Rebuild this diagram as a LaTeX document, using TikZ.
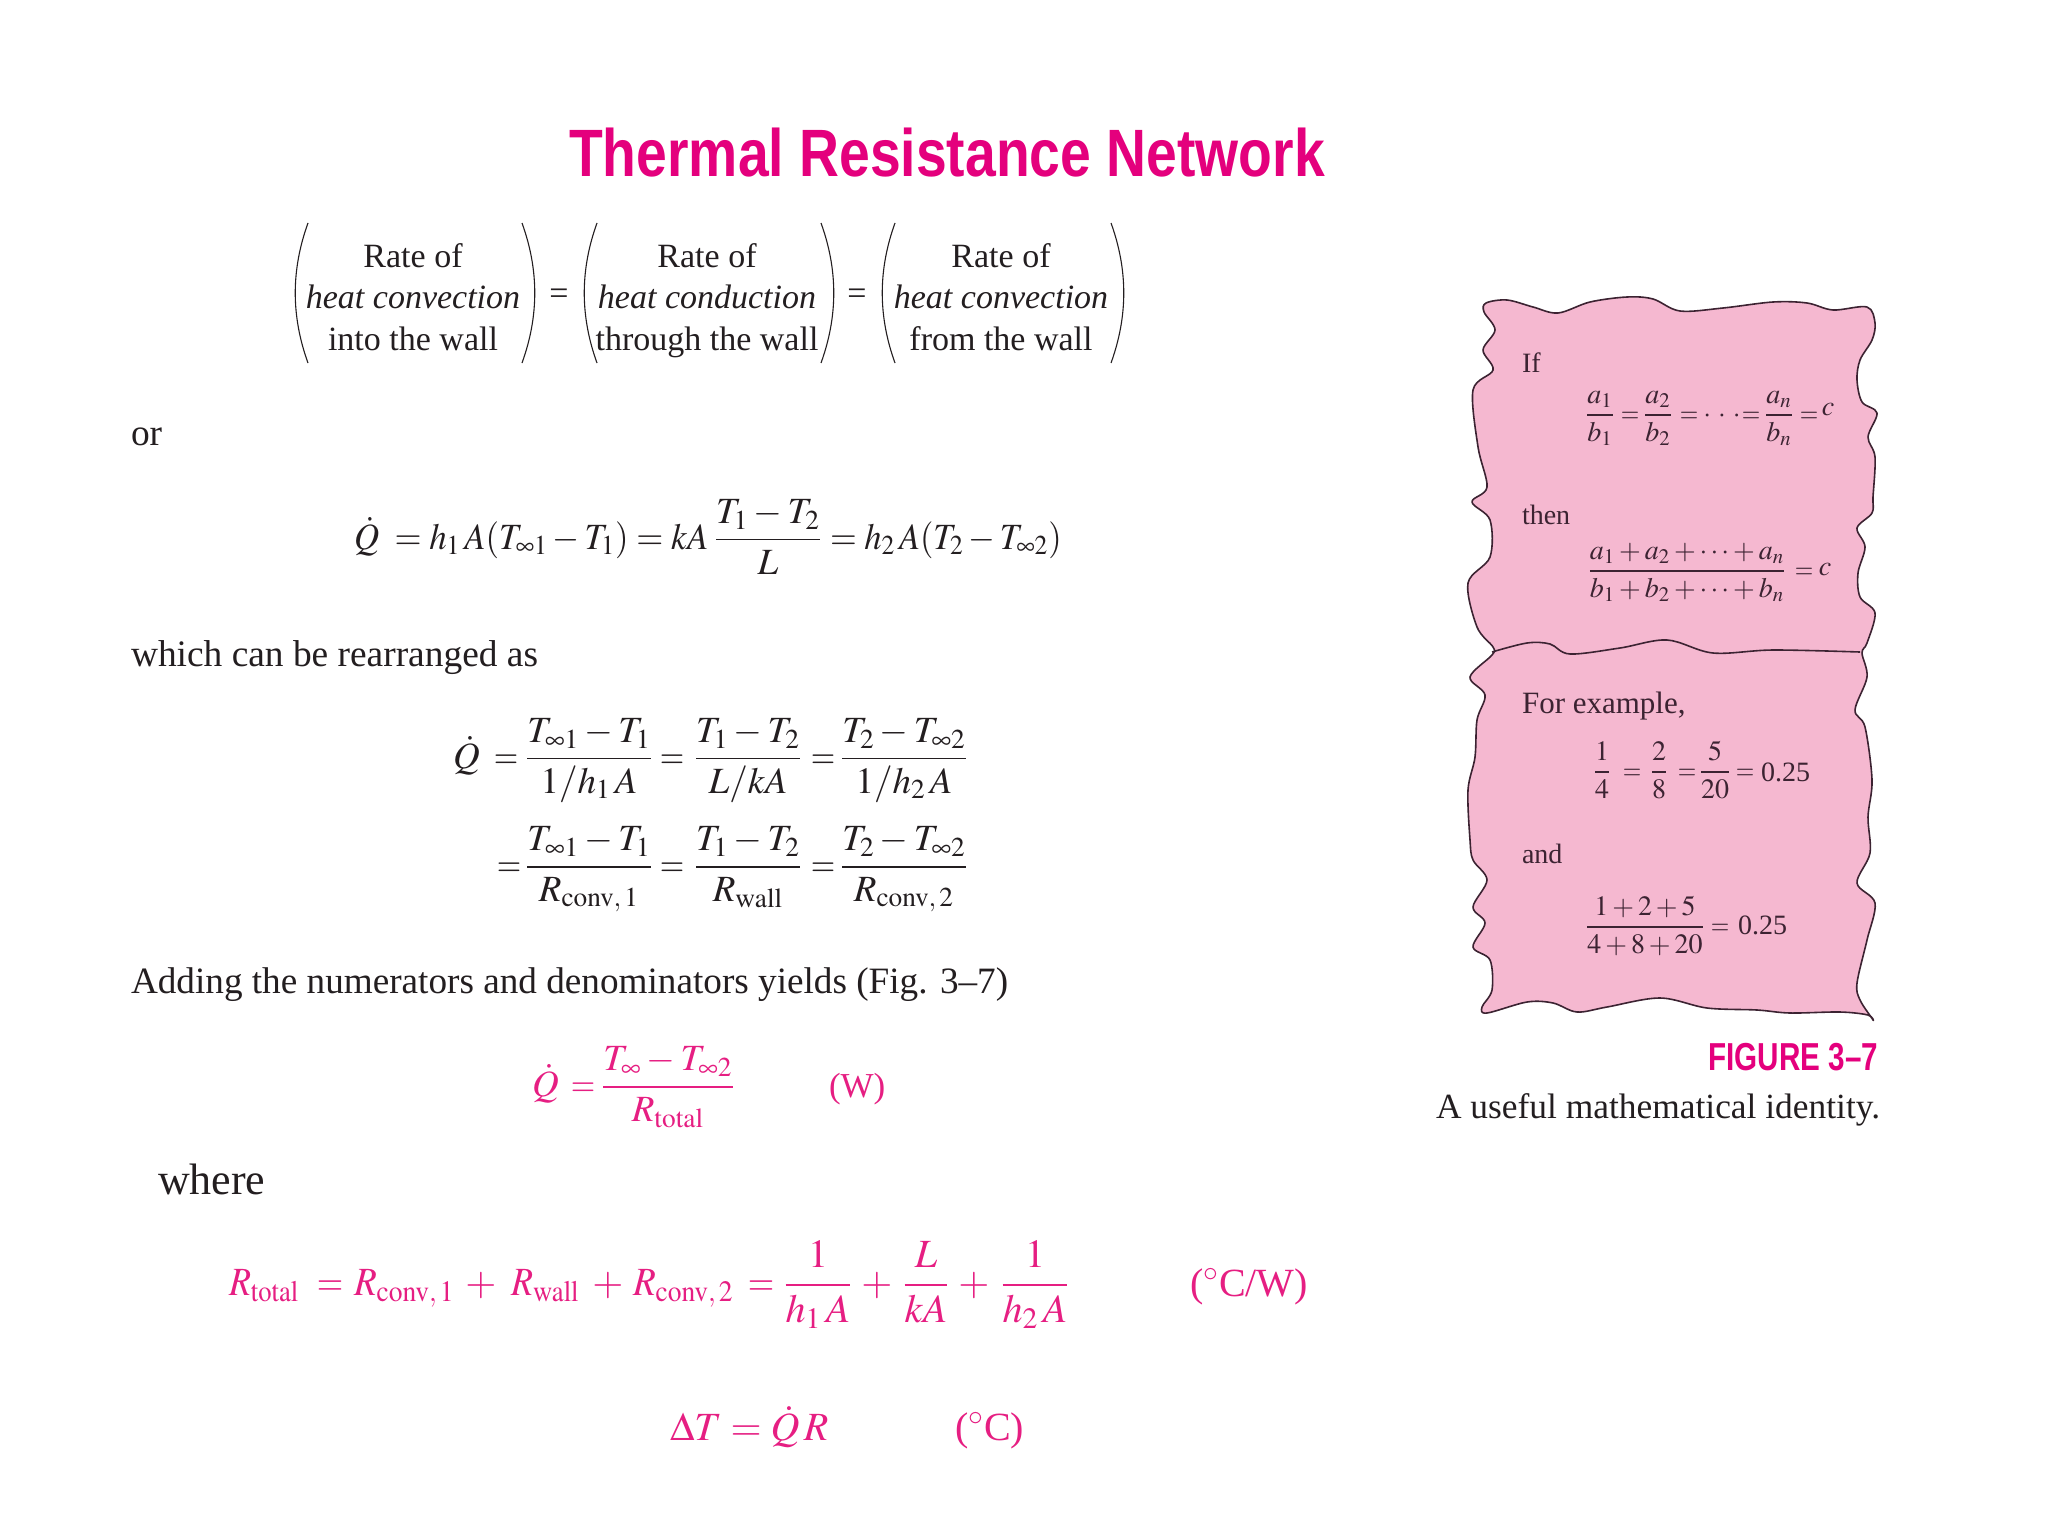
\documentclass[tikz,border=0pt]{standalone}
\usepackage{mathptmx}
\usepackage[no-math]{fontspec}
\usepackage{amsmath}
\usepackage{graphicx}
\setmainfont{Liberation Serif}
\newfontfamily\hd{Liberation Sans}
\definecolor{mag}{RGB}{228,0,125}
\definecolor{pk}{RGB}{230,30,130}
\definecolor{boxfill}{RGB}{245,184,208}
\definecolor{ink}{RGB}{35,30,32}
\definecolor{boxink}{RGB}{60,35,50}
\newcommand\sz[1]{\fontsize{#1}{#1}\selectfont}
\newcommand\Fr[2]{$\displaystyle\frac{#1}{#2}$}
\newcommand\Sx[1]{\scalebox{.93}[1]{#1}}
\newcommand\Eq{\scalebox{.85}[1]{$=$}}
\tikzset{
  lft/.style={inner sep=0pt,outer sep=0pt,anchor=base west},
  mid/.style={inner sep=0pt,outer sep=0pt,anchor=base},
  rgt/.style={inner sep=0pt,outer sep=0pt,anchor=base east},
  paren/.style={draw=ink,line width=0.55pt},
}
\begin{document}
\begin{tikzpicture}[x=0.5pt,y=-0.5pt,every node/.style={text=ink}]
\useasboundingbox (0,0) rectangle (2048,1536);
\fill[white] (0,0) rectangle (2048,1536);

% title
\node[mid,text=mag,font=\hd\bfseries\sz{33.5}] (title) at (947,176) {\scalebox{.825}[1]{Thermal Resistance Network}};

% bracketed statement
\begin{scope}[every node/.append style={font=\sz{17}}]
\node[mid] (a1) at (413,267) {Rate of};
\node[mid] (a2) at (413,308) {\itshape heat convection};
\node[mid] (a3) at (413,350) {into the wall};
\node[mid] (b1) at (707,267) {Rate of};
\node[mid] (b2) at (707,308) {\itshape heat conduction};
\node[mid] (b3) at (707,350) {through the wall};
\node[mid] (c1) at (1001,267) {Rate of};
\node[mid] (c2) at (1001,308) {\itshape heat convection};
\node[mid] (c3) at (1001,350) {from the wall};
\node[mid] (eqa) at (559,304) {=};
\node[mid] (eqb) at (857,304) {=};
\end{scope}
\draw[paren] (308,223) .. controls (291,270) and (291,316) .. (308,363);
\draw[paren] (522,223) .. controls (539,270) and (539,316) .. (522,363);
\draw[paren] (597,223) .. controls (580,270) and (580,316) .. (597,363);
\draw[paren] (821,223) .. controls (838,270) and (838,316) .. (821,363);
\draw[paren] (895,223) .. controls (878,270) and (878,316) .. (895,363);
\draw[paren] (1111,223) .. controls (1128,270) and (1128,316) .. (1111,363);

\node[lft,font=\sz{18.7}] (or) at (131,445) {or};

% first equation
\begin{scope}[every node/.append style={font=\sz{18.5}}]
\node[lft] (e1) at (354,549) {\scalebox{.94}[1]{$\dot Q\;=h_1\,A(T_{\infty 1}-T_1)=kA$}};
\node[mid] (e2) at (768,549) {\Fr{T_1-T_2}{L}};
\node[lft] (e3) at (830,549) {\Sx{$=h_2\,A(T_2-T_{\infty 2})$}};
\end{scope}

\node[lft,font=\sz{18.7}] (which) at (131,666) {which can be rearranged as};

% rearranged
\begin{scope}[every node/.append style={font=\sz{18.5}}]
\node[lft] (q0) at (453,768) {$\dot Q$};
\node[mid] (q1) at (506,768) {\Eq};
\node[mid] (q2) at (589,768) {\Fr{T_{\infty 1}-T_1}{1/h_1\,A}};
\node[mid] (q3) at (672,768) {\Eq};
\node[mid] (q4) at (748,768) {\Fr{T_1-T_2}{L/kA}};
\node[mid] (q5) at (823,768) {\Eq};
\node[mid] (q6) at (904,768) {\Fr{T_2-T_{\infty 2}}{1/h_2\,A}};
\node[mid] (r1) at (509,876) {\Eq};
\node[mid] (r2) at (589,876) {\Fr{T_{\infty 1}-T_1}{R_{\mathrm{conv,\,1}}}};
\node[mid] (r3) at (672,876) {\Eq};
\node[mid] (r4) at (748,876) {\Fr{T_1-T_2}{R_{\mathrm{wall}}}};
\node[mid] (r5) at (823,876) {\Eq};
\node[mid] (r6) at (904,876) {\Fr{T_2-T_{\infty 2}}{R_{\mathrm{conv,\,2}}}};
\end{scope}

\node[lft,font=\sz{18.6}] (adding) at (131,993) {Adding the numerators and denominators yields (Fig. 3–7)};

% result (pink)
\begin{scope}[every node/.append style={font=\sz{18.5},text=pk}]
\node[lft] (w0) at (532,1096) {$\dot Q$};
\node[mid] (w1) at (583,1096) {\Eq};
\node[mid] (w2) at (668,1096) {\Fr{T_{\infty}-T_{\infty 2}}{R_{\mathrm{total}}}};
\node[lft,font=\sz{17.5}] (w3) at (829,1097) {(W)};
\end{scope}

\node[lft,font=\sz{22}] (where) at (158,1194) {where};

\begin{scope}[every node/.append style={font=\sz{20},text=pk}]
\node[lft] (t1) at (229,1295) {\scalebox{.9}[1]{$R_{\mathrm{total}}$}};
\node[mid] (t2) at (330,1295) {\Eq};
\node[lft] (t3) at (354,1295) {\Sx{$R_{\mathrm{conv,\,1}}$}};
\node[mid] (t4) at (481,1295) {$+$};
\node[lft] (t5) at (511,1295) {\scalebox{.9}[1]{$R_{\mathrm{wall}}$}};
\node[mid] (t6) at (608,1295) {$+$};
\node[lft] (t7) at (633,1295) {\Sx{$R_{\mathrm{conv,\,2}}$}};
\node[mid] (t8) at (761,1295) {\Eq};
\node[mid] (t9) at (818,1295) {\Fr{1}{h_1\,A}};
\node[mid] (t10) at (877,1295) {$+$};
\node[mid] (t11) at (926,1295) {\Fr{L}{kA}};
\node[mid] (t12) at (974,1295) {$+$};
\node[mid] (t13) at (1035,1295) {\Fr{1}{h_2\,A}};
\node[lft] (t14) at (1190,1296) {($^\circ$C/W)};
\end{scope}

\begin{scope}[every node/.append style={font=\sz{20},text=pk}]
\node[lft] (d1) at (670,1440) {$\Delta T=\dot Q\,R$};
\node[lft] (d2) at (955,1440) {($^\circ$C)};
\end{scope}

% pink identity panel
\draw[fill=boxfill,draw=boxink,line width=0.8pt,line join=round]
 plot[smooth cycle,tension=.55] coordinates {
 (1486,303)(1507,300)(1533,307)(1558,313)(1590,302)(1627,297)(1653,299)(1680,311)(1723,308)(1773,302)(1807,303)(1833,310)(1867,307)
 (1875,323)(1872,340)(1860,360)(1857,380)(1862,402)(1877,413)(1868,437)(1875,457)(1873,497)(1872,513)(1857,528)(1865,547)(1858,573)(1860,597)(1875,613)(1867,643)
 (1862,653)(1867,677)(1855,710)(1865,727)(1872,780)(1868,817)(1870,853)(1857,883)(1875,903)(1867,940)(1857,983)(1860,1000)(1873,1020)(1868,1015)
 (1840,1012)(1790,1013)(1757,1010)(1707,1008)(1660,998)(1607,1007)(1577,1012)(1553,1003)(1527,1002)(1487,1013)(1482,1007)
 (1492,990)(1490,960)(1473,947)(1485,923)(1473,907)(1487,880)(1473,860)(1470,840)(1468,790)(1475,757)(1477,720)(1485,695)(1470,677)(1492,655)
 (1493,647)(1477,627)(1468,583)(1490,557)(1490,520)(1472,502)(1487,487)(1478,447)(1473,390)(1493,370)(1483,350)(1495,330)(1484,312)};
\draw[draw=boxink,line width=0.8pt]
 plot[smooth,tension=.55] coordinates {(1492,652)(1527,643)(1550,644)(1570,654)(1620,648)(1667,640)(1713,653)(1773,650)(1860,652)};

\begin{scope}[every node/.append style={text=boxink,font=\sz{14}}]
\node[lft] (if) at (1522,372) {If};
\node[mid] (f1) at (1600,422) {\Fr{a_1}{b_1}};
\node[mid] (f1e) at (1630,422) {\Eq};
\node[mid] (f2) at (1658,422) {\Fr{a_2}{b_2}};
\node[mid] (f2e) at (1689,422) {\Eq};
\node[mid] (fd) at (1722,422) {$\cdot\,\cdot\,\cdot$};
\node[mid] (f3e) at (1751,422) {\Eq};
\node[mid] (f3) at (1779,422) {\Fr{a_n}{b_n}};
\node[mid] (f4e) at (1809,422) {\Eq};
\node[mid] (f4c) at (1828,415) {$c$};
\node[lft] (then) at (1522,524) {then};
\node[mid] (g1) at (1687,578) {\Fr{a_1+a_2+\cdots+a_n}{b_1+b_2+\cdots+b_n}};
\node[mid] (g2) at (1804,578) {\Eq};
\node[mid] (g3) at (1825,575) {$c$};
\node[lft,font=\sz{15.5}] (ex) at (1522,713) {For example,};
\node[mid] (h1) at (1602,779) {\Fr{1}{4}};
\node[mid] (h1e) at (1632,779) {\Eq};
\node[mid] (h2) at (1659,779) {\Fr{2}{8}};
\node[mid] (h2e) at (1687,779) {\Eq};
\node[mid] (h3) at (1715,779) {\Fr{5}{20}};
\node[mid] (h3e) at (1745,779) {\Eq};
\node[lft] (h4) at (1761,781) {0.25};
\node[lft] (and) at (1522,863) {and};
\node[mid] (k1) at (1645,934) {\Fr{1+2+5}{4+8+20}};
\node[mid] (k1e) at (1720,934) {\Eq};
\node[lft] (k2) at (1738,934) {0.25};
\end{scope}

\node[rgt,text=mag,font=\hd\bfseries\sz{19.5}] (fig) at (1878,1070) {\scalebox{.76}[1]{FIGURE 3–7}};
\node[rgt,font=\sz{17.7}] (cap) at (1880,1118) {A useful mathematical identity.};
\end{tikzpicture}
\end{document}
